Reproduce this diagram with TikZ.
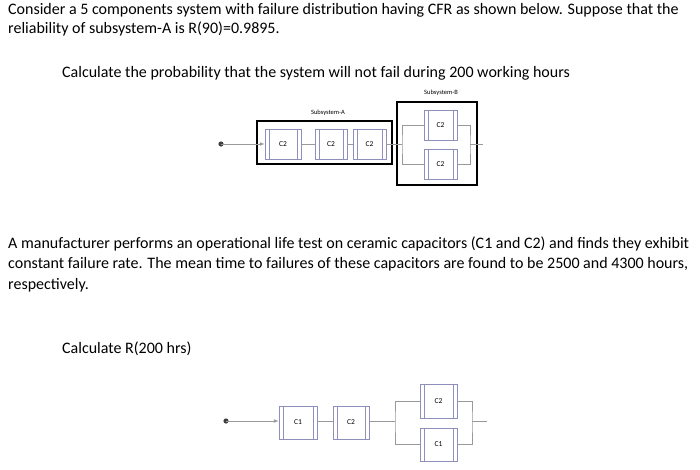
\documentclass[tikz,border=0pt]{standalone}
\usepackage{fontspec}
\setmainfont{Carlito}
\begin{document}
\begin{tikzpicture}[x=1pt,y=-1pt,
  txt/.style={anchor=west,inner sep=0pt,font=\fontsize{16}{18}\selectfont},
  blk/.style={draw=blue!25!gray!70,line width=0.7pt,minimum width=#1,minimum height=30pt,inner sep=0pt,font=\fontsize{7.5}{8}\selectfont,
    path picture={\draw[blue!25!gray!70,line width=0.7pt]
      ([xshift=4pt]path picture bounding box.north west)--([xshift=4pt]path picture bounding box.south west)
      ([xshift=-4pt]path picture bounding box.north east)--([xshift=-4pt]path picture bounding box.south east);}},
  blk/.default=36pt,
  wire/.style={draw=gray!80,line width=0.7pt},
  sub/.style={draw,line width=1.4pt},
  lab/.style={font=\fontsize{6.5}{7}\selectfont,inner sep=0pt}]
\useasboundingbox (0,0) rectangle (700,469);
\node[txt] (t1) at (8,10) {Consider a 5 components system with failure distribution having CFR as shown below. Suppose that the};
\node[txt] (t2) at (8,29) {reliability of subsystem-A is R(90)=0.9895.};
\node[txt] (t3) at (62,73) {Calculate the probability that the system will not fail during 200 working hours};
\node[txt] (t4) at (8,244) {A manufacturer performs an operational life test on ceramic capacitors (C1 and C2) and finds they exhibit};
\node[txt] (t5) at (8,264) {constant failure rate. The mean time to failures of these capacitors are found to be 2500 and 4300 hours,};
\node[txt] (t6) at (8,285) {respectively.};
\node[txt] (t7) at (62,349) {Calculate R(200 hrs)};
% diagram 1
\draw[sub] (257,121) rectangle (392,164);
\draw[sub] (397,102) rectangle (477,185);
\node[lab] (la) at (328,113) {Subsystem-A};
\node[lab] (lb) at (441,93) {Subsystem-B};
\fill[gray!50!black] (221,144) circle (2.6pt) coordinate (d1);
\node[blk] (a1) at (283,144) {C2};
\node[blk=32pt] (a2) at (331,144) {C2};
\node[blk=33pt] (a3) at (369.5,144) {C2};
\node[blk=33pt] (b1) at (440.5,125.5) {C2};
\node[blk=33pt] (b2) at (440.5,164.5) {C2};
\coordinate (bl) at (402,144);
\coordinate (br) at (470,144);
\coordinate (o1) at (483,144);
\draw[wire,-latex] (d1) -- (a1);
\draw[wire] (a1) -- (a2) (a2) -- (a3) (a3) -- (bl) (br) -- (o1);
\draw[wire] (b1.west) -| (bl) |- (b2.west);
\draw[wire] (b1.east) -| (br) |- (b2.east);
% diagram 2
\fill[gray!50!black] (226,421) circle (2.6pt) coordinate (d2);
\node[blk=38pt,minimum height=33pt] (c1) at (298,422.5) {C1};
\node[blk=36pt,minimum height=33pt] (c2) at (351,422.5) {C2};
\node[blk=37pt,minimum height=34pt] (c3) at (438.5,401) {C2};
\node[blk=37pt,minimum height=33pt] (c4) at (438.5,444.5) {C1};
\coordinate (cl) at (395,421);
\coordinate (cr) at (472,421);
\coordinate (o2) at (487,421);
\draw[wire,-latex] (d2) -- (c1.west|-d2);
\draw[wire] (c1.east|-d2) -- (c2.west|-d2) (c2.east|-d2) -- (cl) (cr) -- (o2);
\draw[wire] (c3.west) -| (cl) |- (c4.west);
\draw[wire] (c3.east) -| (cr) |- (c4.east);
\end{tikzpicture}
\end{document}
